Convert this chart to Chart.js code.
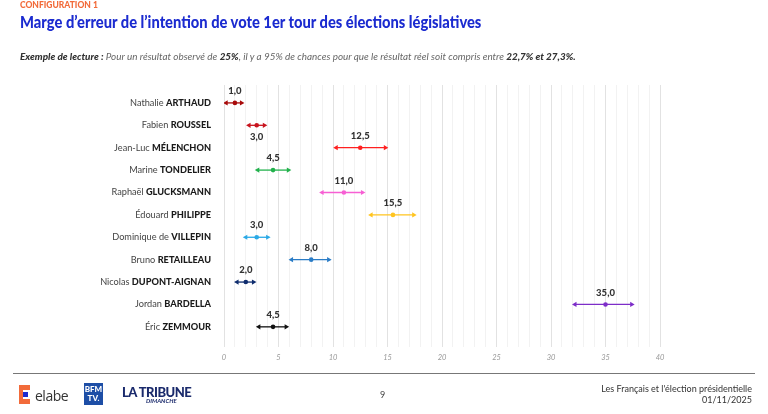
<!DOCTYPE html>
<html>
<head>
<meta charset="utf-8">
<script src="https://cdn.jsdelivr.net/npm/chart.js"></script>
<style>
  html,body{margin:0;padding:0;background:#fff;}
  body{width:768px;height:414px;position:relative;overflow:hidden;font-family:Lato,"Open Sans",sans-serif;}
  #c{position:absolute;left:0;top:0;}
  .abs{position:absolute;white-space:nowrap;}
  #conf{left:20px;top:0px;font-size:8.5px;font-weight:900;color:#f26b3a;}
  #title{left:20px;top:11px;font-size:17.5px;font-weight:900;color:#1b2bd0;transform:scaleX(0.84);transform-origin:0 0;}
  #sub{left:20px;top:50px;font-size:9.9px;font-style:italic;color:#666;}
  #sub b{color:#333;font-weight:900;}
  #rule{left:13px;top:373px;width:742px;height:1px;background:#777;}
  #page{left:380px;top:389px;font-size:9px;color:#444;}
  #right{right:16px;top:383px;font-size:9px;color:#333;text-align:right;line-height:11px;}
  #elabeIcon{left:19px;top:385px;width:11px;height:19px;}
  #elabe{left:35px;top:386px;font-size:14px;color:#333;font-family:"Open Sans",sans-serif;letter-spacing:-0.5px;}
  #bfm{left:84px;top:383px;width:19px;height:22px;background:#1d4ea6;color:#fff;font-size:8px;font-weight:900;line-height:9px;text-align:center;padding-top:2px;box-sizing:border-box;}
  #trib{left:122px;top:384px;font-size:13px;font-weight:900;color:#1a2a6c;letter-spacing:-0.5px;}
  #dim{left:146px;top:397px;font-size:6px;font-style:italic;font-weight:700;color:#1a2a6c;}
</style>
</head>
<body>
<canvas id="c" width="768" height="414"></canvas>
<div class="abs" id="conf">CONFIGURATION 1</div>
<div class="abs" id="title">Marge d’erreur de l’intention de vote 1er tour des élections législatives</div>
<div class="abs" id="sub"><b>Exemple de lecture :</b> Pour un résultat observé de <b>25%</b>, il y a 95% de chances pour que le résultat réel soit compris entre <b>22,7% et 27,3%.</b></div>
<div class="abs" id="rule"></div>
<svg class="abs" id="elabeIcon" viewBox="0 0 11 19">
  <rect x="0" y="0" width="11" height="5" fill="#f26b3a"/>
  <rect x="0" y="7" width="9" height="5" fill="#1b2bd0"/>
  <rect x="0" y="14" width="11" height="5" fill="#f26b3a"/>
  <rect x="0" y="0" width="4" height="19" fill="#f26b3a"/>
</svg>
<div class="abs" id="elabe">elabe</div>
<div class="abs" id="bfm">BFM<br>TV.</div>
<div class="abs" id="trib">LA TRIBUNE</div>
<div class="abs" id="dim">DIMANCHE</div>
<div class="abs" id="page">9</div>
<div class="abs" id="right">Les Français et l'élection présidentielle<br>01/11/2025</div>
<script>
const firstNames = ["Nathalie","Fabien","Jean-Luc","Marine","Raphaël","Édouard","Dominique de","Bruno","Nicolas","Jordan","Éric"];
const lastNames = ["ARTHAUD","ROUSSEL","MÉLENCHON","TONDELIER","GLUCKSMANN","PHILIPPE","VILLEPIN","RETAILLEAU","DUPONT-AIGNAN","BARDELLA","ZEMMOUR"];
const values = [1.0, 3.0, 12.5, 4.5, 11.0, 15.5, 3.0, 8.0, 2.0, 35.0, 4.5];
const lows  = [0.2, 2.3, 10.3, 3.1, 9.0, 13.5, 2.0, 6.2, 1.2, 32.2, 3.2];
const highs = [1.6, 3.7, 14.8, 5.9, 12.7, 17.4, 4.0, 9.6, 2.7, 37.4, 5.7];
const colors = ["#a80a0a","#c8141e","#ff2020","#22b14c","#f75fd4","#ffc41f","#2aa9e6","#2a7cc6","#0f2d6e","#7d2dc8","#111111"];
const labelBelow = [false,true,false,false,false,false,false,false,false,false,false];
const xTicksMax = 40;

const datasets = values.map((v,i)=>({
  label: lastNames[i],
  data: [{x: lows[i], y: i},{x: v, y: i},{x: highs[i], y: i}],
  showLine: true,
  borderColor: colors[i],
  backgroundColor: colors[i],
  borderWidth: 1.3,
  pointStyle: ['triangle','circle','triangle'],
  pointRotation: [270,0,90],
  pointRadius: [3,2.3,3],
  pointBorderWidth: 0,
  pointHoverRadius: [3,2.3,3]
}));

const labelsPlugin = {
  id:'labels',
  afterDraw(chart){
    const ctx = chart.ctx, xs = chart.scales.x, ys = chart.scales.y;
    ctx.save();
    ctx.textBaseline='middle';
    values.forEach((v,i)=>{
      const y = ys.getPixelForValue(i);
      ctx.textAlign='right';
      ctx.font = '900 9.2px Lato';
      ctx.fillStyle='#1a1a1a';
      const rx = 211;
      ctx.fillText(lastNames[i], rx, y);
      const w = ctx.measureText(lastNames[i]).width;
      ctx.font = '400 9.2px Lato';
      ctx.fillStyle='#444';
      ctx.fillText(firstNames[i]+' ', rx - w, y);
      ctx.textAlign='center';
      ctx.font = '900 9.5px Lato';
      ctx.fillStyle='#333';
      const x = xs.getPixelForValue(v);
      ctx.fillText(v.toFixed(1).replace('.',','), x, y + (labelBelow[i] ? 12 : -12));
    });
    ctx.restore();
  }
};

new Chart(document.getElementById('c'), {
  type:'scatter',
  data:{datasets},
  options:{
    responsive:false,
    animation:false,
    layout:{padding:{left:224,right:108,top:85,bottom:46}},
    plugins:{legend:{display:false},tooltip:{enabled:false}},
    scales:{
      x:{
        type:'linear', min:0, max:xTicksMax,
        border:{display:false},
        grid:{drawTicks:false, color:(c)=> (c.tick && c.tick.value % 5 === 0) ? '#e2e2e2' : '#f2f2f2', lineWidth:1},
        ticks:{stepSize:1, autoSkip:false, maxRotation:0, padding:6,
          font:{family:'Lato', size:7.5, style:'italic'}, color:'#999',
          callback:(v)=> v % 5 === 0 ? String(v) : ''}
      },
      y:{
        type:'linear', reverse:true, min:-0.8, max:10.9, display:false
      }
    }
  },
  plugins:[labelsPlugin]
});
</script>
</body>
</html>
